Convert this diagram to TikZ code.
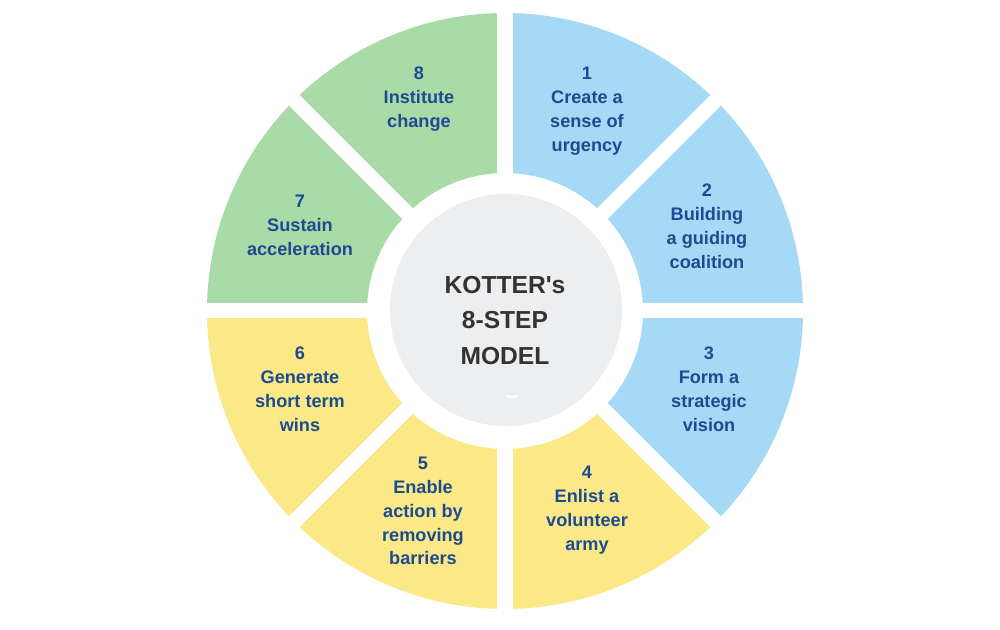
\documentclass[tikz,border=0pt]{standalone}
\usepackage{fontspec}
\setmainfont{Liberation Sans}
\usepackage{xcolor}
\usetikzlibrary{positioning}
\definecolor{stepblue}{HTML}{A6D9F5}
\definecolor{stepgreen}{HTML}{A8DBA6}
\definecolor{stepyellow}{HTML}{FBE987}
\definecolor{steptext}{HTML}{1D4B91}
\definecolor{hubgray}{HTML}{EDEEF0}
\definecolor{hubtext}{HTML}{333333}
\tikzset{
  s/.style = {
    align=center, inner sep=0pt, text=steptext,
    font=\bfseries\fontsize{12.9}{17}\selectfont
  },
  hub/.style = {
    circle, fill=hubgray, inner sep=0pt, minimum size=5.8cm
  },
  hubtitle/.style = {
    align=center, inner sep=0pt, text=hubtext,
    font=\bfseries\fontsize{17.5}{25.2}\selectfont
  },
  gap/.style = {
    draw=white, line width=0.375cm
  }
}
\begin{document}
\begin{tikzpicture}[x=0.025cm, y=0.025cm]
  \fill [white] (-505,-319) rectangle (495,311);
  \useasboundingbox (-505,-319) rectangle (495,311);
  % ring of eight steps
  \foreach \a/\c in {45/stepblue, 0/stepblue, -45/stepblue,
                     -90/stepyellow, -135/stepyellow, 180/stepyellow,
                     135/stepgreen, 90/stepgreen}
    \fill [\c] (\a:138) arc [start angle=\a, delta angle=45, radius=138]
      -- ({\a+45}:298) arc [start angle={\a+45}, delta angle=-45, radius=298]
      -- cycle;
  \foreach \a in {0,45,...,315}
    \draw [gap] (0,0) -- (\a:310);
  % hub
  \node [hub] (hub) at (1,1) {};
  \node [hubtitle] (kotter) at (0,-9.5) {KOTTER\textquotesingle s\\8-STEP\\MODEL};
  \draw [white, line width=0.075cm, line cap=round] (3,-86) -- (11,-86);
  % step labels
  \path
    (82,200) node [s] (s1) {1\\Create a\\sense of\\urgency}
    (202,85) node [s] (s2) {2\\Building\\a guiding\\coalition}
    (204,-78) node [s] (s3) {3\\Form a\\strategic\\vision}
    (82,-199) node [s] (s4) {4\\Enlist a\\volunteer\\army}
    (-82,-200) node [s] (s5) {5\\Enable\\action by\\removing\\barriers}
    (-205,-78) node [s] (s6) {6\\Generate\\short term\\wins}
    (-205,86) node [s] (s7) {7\\Sustain\\acceleration}
    (-86,212) node [s] (s8) {8\\Institute\\change};
\end{tikzpicture}
\end{document}
